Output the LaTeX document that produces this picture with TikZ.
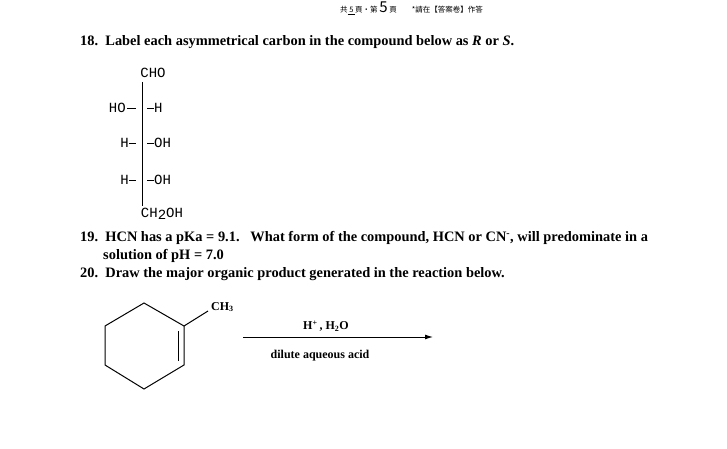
\documentclass[tikz,border=0pt]{standalone}
\usepackage{fontspec}
\setmainfont{Liberation Serif}
\newfontfamily\cjk{Noto Sans CJK TC}
\newfontfamily\mono{Liberation Mono}
\usetikzlibrary{arrows.meta}
\begin{document}
\begin{tikzpicture}[x=1pt,y=-1pt,
  q/.style={anchor=west,inner sep=0,font=\fontsize{14.4}{16}\selectfont\bfseries},
  fi/.style={inner sep=0,font=\mono\fontsize{14}{15}\selectfont},
  bond/.style={line width=1pt}]
\useasboundingbox (0,0) rectangle (727,449);
\node[inner sep=0,anchor=west,font=\cjk\fontsize{7.5}{8}\selectfont] (hdr) at (340,8) {共\underline{\ 5\ }頁・第 {\fontsize{15}{15}\selectfont 5} 頁\qquad *請在【答案卷】作答};
\node[q] (n18) at (80,42) {18.\ \ Label each asymmetrical carbon in the compound below as \textit{R} or \textit{S}.};
% Fischer
\coordinate (ft) at (142,82); \coordinate (fb) at (142,206);
\draw[line width=0.9pt] (ft) -- (fb);
\node[fi] (cho) at (153,73) {CHO};
\node[fi,anchor=east] (ho1) at (126,108) {HO};
\coordinate (a1) at (127,108); \coordinate (a2) at (136,108);
\draw (a1) -- (a2);
\coordinate (b1) at (147,108); \coordinate (b2) at (154,108);
\draw (b1) -- (b2); \node[fi,anchor=west] (h1) at (154,108) {H};
\foreach \y/\n in {143/2,180/3}{
  \node[fi,anchor=east] (hl\n) at (129,\y) {H};
  \coordinate (c\n) at (129,\y); \coordinate (d\n) at (136,\y);
  \draw (c\n) -- (d\n);
  \coordinate (e\n) at (147,\y); \coordinate (f\n) at (154,\y);
  \draw (e\n) -- (f\n);
  \node[fi,anchor=west] (oh\n) at (154,\y) {OH};
}
\node[fi] (ch2oh) at (162,214) {CH\raisebox{-0.3ex}{2}OH};
\node[q] (n19) at (80,238) {19.\ \ HCN has a pKa = 9.1.\ \ \ What form of the compound, HCN or CN\textsuperscript{-}, will predominate in a};
\node[q] (n19b) at (103,256) {solution of pH = 7.0};
\node[q] (n20) at (80,274) {20.\ \ Draw the major organic product generated in the reaction below.};
% cyclohexene
\coordinate (r1) at (144,303); \coordinate (r2) at (184,326);
\coordinate (r3) at (184,365); \coordinate (r4) at (144,389);
\coordinate (r5) at (105,365); \coordinate (r6) at (105,326);
\draw[bond] (r1)--(r2)--(r3)--(r4)--(r5)--(r6)--cycle;
\coordinate (i1) at (178,331); \coordinate (i2) at (178,361);
\draw[bond] (i1) -- (i2);
\coordinate (me) at (208,311);
\draw[bond] (r2) -- (me);
\node[inner sep=0,anchor=west,font=\fontsize{12}{13}\selectfont\bfseries] (ch3) at (211,307) {CH\textsubscript{3}};
\coordinate (ar1) at (243,337); \coordinate (ar2) at (433,337);
\draw[line width=1pt,-{Latex[length=8pt,width=5pt]}] (ar1) -- (ar2);
\node[inner sep=0,font=\fontsize{12}{13}\selectfont\bfseries] (cond1) at (326,326) {H\textsuperscript{+}\,, H\textsubscript{2}O};
\node[inner sep=0,font=\fontsize{12}{13}\selectfont\bfseries] (cond2) at (320,356) {dilute aqueous acid};
\end{tikzpicture}
\end{document}
